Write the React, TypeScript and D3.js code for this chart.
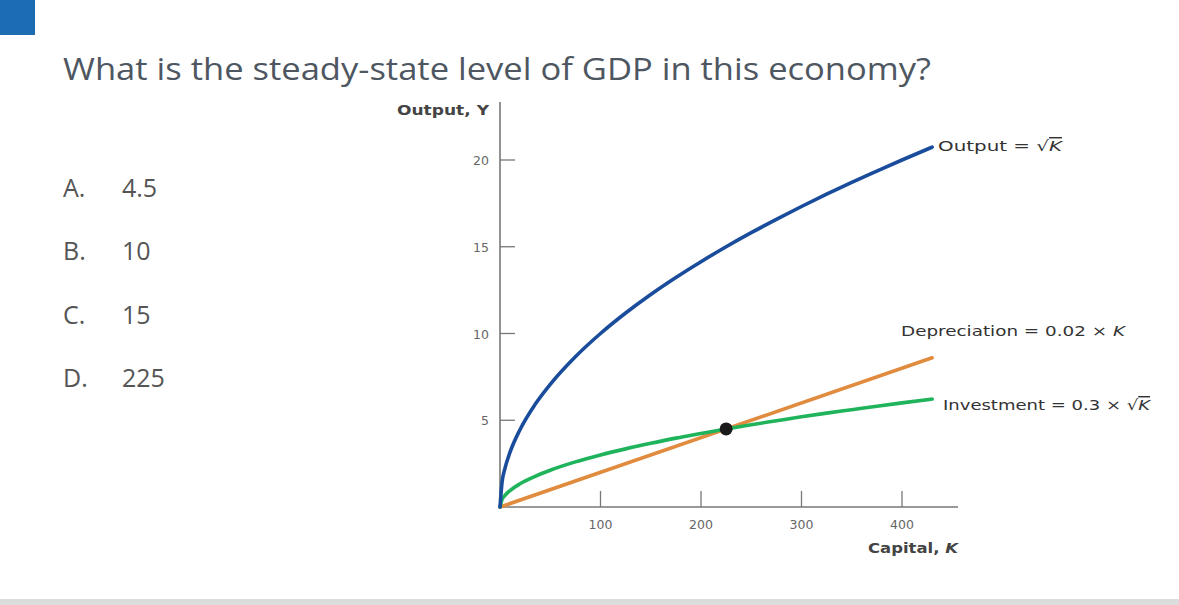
import React, { useEffect, useRef } from 'react';
import * as d3 from 'd3';

const svgWidth = 1179;
const svgHeight = 605;

// chart data
const capitalK = [0, 2, 5, 10, 20, 35, 50, 75, 100, 125, 150, 175, 200, 225, 250, 275, 300, 325, 350, 375, 400, 430];
const outputY = [0, 1.41, 2.24, 3.16, 4.47, 5.92, 7.07, 8.66, 10, 11.18, 12.25, 13.23, 14.14, 15, 15.81, 16.58, 17.32, 18.03, 18.71, 19.36, 20, 20.74];
const investmentY = [0, 0.42, 0.67, 0.95, 1.34, 1.77, 2.12, 2.6, 3, 3.35, 3.67, 3.97, 4.24, 4.5, 4.74, 4.97, 5.2, 5.41, 5.61, 5.81, 6, 6.22];
const depreciationK = [0, 430];
const depreciationY = [0, 8.6];
const steadyState = [225, 4.5];

const xTicks = [100, 200, 300, 400];
const yTicks = [5, 10, 15, 20];

const question = 'What is the steady-state level of GDP in this economy?';
const optionLetters = ['A.', 'B.', 'C.', 'D.'];
const optionValues = ['4.5', '10', '15', '225'];

const origin = { x: 500, y: 507 };
const chartFont = 'DejaVu Sans, Verdana, sans-serif';

const App = () => {
    const ref = useRef<SVGSVGElement>(null);

    useEffect(() => {
        const svg = d3.select(ref.current);
        svg.selectAll('*').remove();

        const xScale = d3.scaleLinear().domain([0, 400]).range([origin.x, 902]);
        const yScale = d3.scaleLinear().domain([0, 20]).range([origin.y, 160]);

        // top-left blue block
        svg.append('rect').attr('x', 0).attr('y', 0).attr('width', 35).attr('height', 35).attr('fill', '#1b6cb3');

        svg.append('text')
            .attr('x', 63).attr('y', 80)
            .attr('font-family', 'Open Sans')
            .attr('font-size', 31)
            .attr('fill', '#4e5761')
            .attr('textLength', 868)
            .attr('lengthAdjust', 'spacingAndGlyphs')
            .text(question);

        const optY = d3.scaleBand().domain(optionLetters).range([156, 410]);
        optionLetters.forEach((l, i) => {
            const y = (optY(l) as number) + optY.bandwidth() / 2 + 9;
            svg.append('text').attr('x', 63).attr('y', y)
                .attr('font-family', 'Open Sans').attr('font-size', 25).attr('fill', '#555')
                .text(l);
            svg.append('text').attr('x', 122).attr('y', y)
                .attr('font-family', 'Open Sans').attr('font-size', 25).attr('fill', '#555')
                .text(optionValues[i]);
        });

        const chart = svg.append('g').attr('font-family', chartFont);

        // axes
        chart.append('line').attr('x1', origin.x).attr('x2', origin.x)
            .attr('y1', 102).attr('y2', origin.y).attr('stroke', '#777').attr('stroke-width', 1.6);
        chart.append('line').attr('x1', origin.x).attr('x2', 958)
            .attr('y1', origin.y).attr('y2', origin.y).attr('stroke', '#777').attr('stroke-width', 1.6);

        chart.selectAll('.yTick').data(yTicks).enter().append('line')
            .attr('x1', origin.x).attr('x2', 515)
            .attr('y1', d => yScale(d)).attr('y2', d => yScale(d))
            .attr('stroke', '#777').attr('stroke-width', 1.3);
        chart.selectAll('.yLabel').data(yTicks).enter().append('text')
            .attr('x', 489).attr('y', d => yScale(d) + 5)
            .attr('text-anchor', 'end').attr('font-size', 12.5).attr('fill', '#666')
            .text(d => d);

        chart.selectAll('.xTick').data(xTicks).enter().append('line')
            .attr('x1', d => xScale(d)).attr('x2', d => xScale(d))
            .attr('y1', origin.y).attr('y2', 491)
            .attr('stroke', '#777').attr('stroke-width', 1.3);
        chart.selectAll('.xLabel').data(xTicks).enter().append('text')
            .attr('x', d => xScale(d)).attr('y', 529)
            .attr('text-anchor', 'middle').attr('font-size', 12.5).attr('fill', '#666')
            .text(d => d);

        chart.append('text').attr('x', 397).attr('y', 115)
            .attr('font-size', 14).attr('font-weight', 'bold').attr('fill', '#444')
            .attr('textLength', 92).attr('lengthAdjust', 'spacingAndGlyphs')
            .text('Output, Y');
        const capLabel = chart.append('text').attr('x', 868).attr('y', 553)
            .attr('font-size', 14).attr('font-weight', 'bold').attr('fill', '#444')
            .attr('textLength', 90).attr('lengthAdjust', 'spacingAndGlyphs');
        capLabel.append('tspan').text('Capital, ');
        capLabel.append('tspan').attr('font-style', 'italic').text('K');

        // curves
        const line = d3.line<[number, number]>()
            .x(d => xScale(d[0])).y(d => yScale(d[1]))
            .curve(d3.curveMonotoneX);

        const series = [
            { pts: d3.zip(depreciationK, depreciationY), color: '#e08b3e' },
            { pts: d3.zip(capitalK, investmentY), color: '#1fb35c' },
            { pts: d3.zip(capitalK, outputY), color: '#1a4c9c' },
        ];
        chart.selectAll('.curve').data(series).enter().append('path')
            .attr('d', d => line(d.pts as [number, number][]))
            .attr('fill', 'none').attr('stroke', d => d.color).attr('stroke-width', 3.6)
            .attr('stroke-linecap', 'round');

        chart.append('circle')
            .attr('cx', xScale(steadyState[0])).attr('cy', yScale(steadyState[1]))
            .attr('r', 6.5).attr('fill', '#1a1a1a');

        // curve labels
        const lab = (x: number, y: number, w: number) => chart.append('text').attr('x', x).attr('y', y)
            .attr('font-size', 14.5).attr('fill', '#333')
            .attr('textLength', w).attr('lengthAdjust', 'spacingAndGlyphs');

        const l1 = lab(938, 151, 124);
        l1.append('tspan').text('Output = √');
        l1.append('tspan').attr('font-style', 'italic').style('text-decoration', 'overline').text('K');

        const l2 = lab(901, 336, 224);
        l2.append('tspan').text('Depreciation = 0.02 × ');
        l2.append('tspan').attr('font-style', 'italic').text('K');

        const l3 = lab(943, 410, 207);
        l3.append('tspan').text('Investment = 0.3 × √');
        l3.append('tspan').attr('font-style', 'italic').style('text-decoration', 'overline').text('K');

        // bottom rule
        svg.append('rect').attr('x', 0).attr('y', 599).attr('width', svgWidth).attr('height', 6).attr('fill', '#dcdcdc');
    }, []);

    return (
        <svg ref={ref} width={svgWidth} height={svgHeight}
            style={{ position: 'absolute', left: 0, top: 0, background: '#fff' }} />
    );
};

export default App;
